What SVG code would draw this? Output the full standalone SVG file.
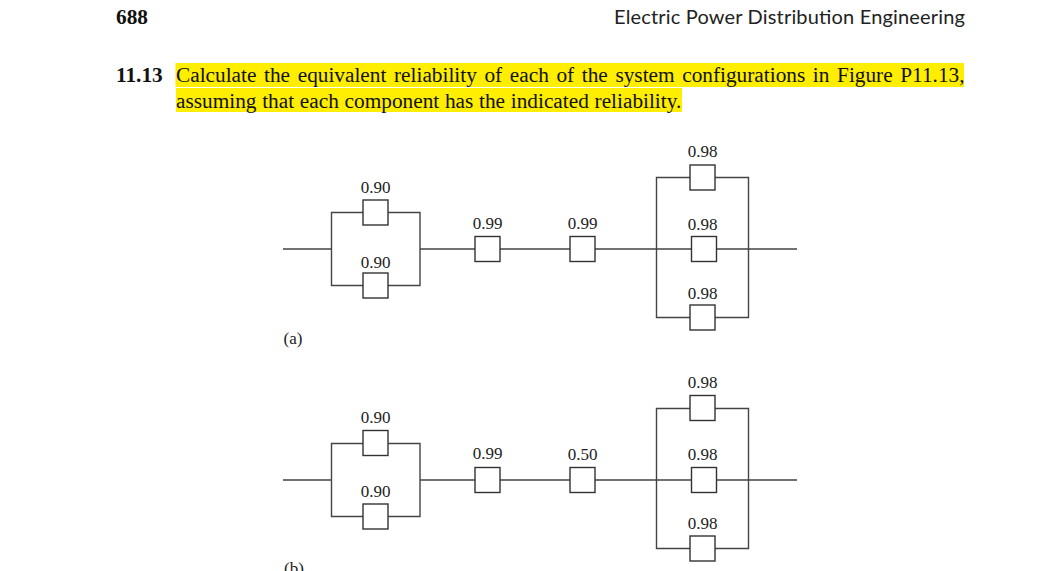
<svg xmlns="http://www.w3.org/2000/svg" width="1051" height="571" viewBox="0 0 1051 571">
<style>
.b{fill:#fff;stroke:#333;stroke-width:1.4}
.w{fill:none;stroke:#444;stroke-width:1.4}
.l{font-family:"Liberation Serif",serif;font-size:17px;fill:#222;text-anchor:middle}
.t{font-family:"Liberation Serif",serif;font-size:21.3px;fill:#111}
.h{fill:#ffee00}
</style>
<rect width="1051" height="571" fill="#fff"/>
<g id="page-header">
<text class="t" x="116" y="24" font-weight="bold">688</text>
<text x="965" y="24" text-anchor="end" font-family="Lato,sans-serif" font-size="20" fill="#222" textLength="351" lengthAdjust="spacing">Electric Power Distribution Engineering</text>
</g>
<g id="problem">
<rect class="h" x="175.5" y="63" width="788.5" height="24"/>
<rect class="h" x="176" y="88" width="506" height="24"/>
<text class="t" x="116" y="82" font-weight="bold">11.13</text>
<text class="t" x="176" y="82" word-spacing="2.3">Calculate the equivalent reliability of each of the system configurations in Figure P11.13,</text>
<text class="t" x="176" y="108" word-spacing="0.4">assuming that each component has the indicated reliability.</text>
</g>
<g id="connectors">
<path class="w" d="M283 249H331.500M420 249H475M500 249H570M595 249H691.500M716.500 249H797"/>
<path class="w" d="M363 212.500H331.500V285.500H363M388 212.500H420V285.500H388"/>
<path class="w" d="M690 177.500H656.500V317.500H690M715 177.500H748.500V317.500H715"/>
<path class="w" d="M283 480H331.500M420 480H475M500 480H570M595 480H691.500M716.500 480H797"/>
<path class="w" d="M363 443.500H331.500V516.500H363M388 443.500H420V516.500H388"/>
<path class="w" d="M690 408.500H656.500V548.500H690M715 408.500H748.500V548.500H715"/>
</g>
<g id="fig-a">
<g id="a1"><rect class="b" x="363" y="200" width="25" height="25"/><text class="l" x="375.500" y="193">0.90</text></g>
<g id="a2"><rect class="b" x="363" y="273" width="25" height="25"/><text class="l" x="375.500" y="268">0.90</text></g>
<g id="a3"><rect class="b" x="475" y="236.500" width="25" height="25"/><text class="l" x="487.500" y="229">0.99</text></g>
<g id="a4"><rect class="b" x="570" y="236.500" width="25" height="25"/><text class="l" x="582.500" y="229">0.99</text></g>
<g id="a5"><rect class="b" x="690" y="165" width="25" height="25"/><text class="l" x="702.500" y="157">0.98</text></g>
<g id="a6"><rect class="b" x="691.500" y="236.500" width="25" height="25"/><text class="l" x="702.500" y="230">0.98</text></g>
<g id="a7"><rect class="b" x="690" y="305" width="25" height="25"/><text class="l" x="702.500" y="299">0.98</text></g>
<text class="l" x="293" y="344">(a)</text>
</g>
<g id="fig-b">
<g id="b1"><rect class="b" x="363" y="430.500" width="25" height="25"/><text class="l" x="375.500" y="423">0.90</text></g>
<g id="b2"><rect class="b" x="363" y="504" width="25" height="25"/><text class="l" x="375.500" y="497">0.90</text></g>
<g id="b3"><rect class="b" x="475" y="467.500" width="25" height="25"/><text class="l" x="487.500" y="459">0.99</text></g>
<g id="b4"><rect class="b" x="570" y="467.500" width="25" height="25"/><text class="l" x="582.500" y="460">0.50</text></g>
<g id="b5"><rect class="b" x="690" y="395.500" width="25" height="25"/><text class="l" x="702.500" y="388">0.98</text></g>
<g id="b6"><rect class="b" x="691.500" y="467.500" width="25" height="25"/><text class="l" x="702.500" y="460">0.98</text></g>
<g id="b7"><rect class="b" x="690" y="536" width="25" height="25"/><text class="l" x="702.500" y="529">0.98</text></g>
<text class="l" x="294" y="574">(b)</text>
</g>
</svg>
